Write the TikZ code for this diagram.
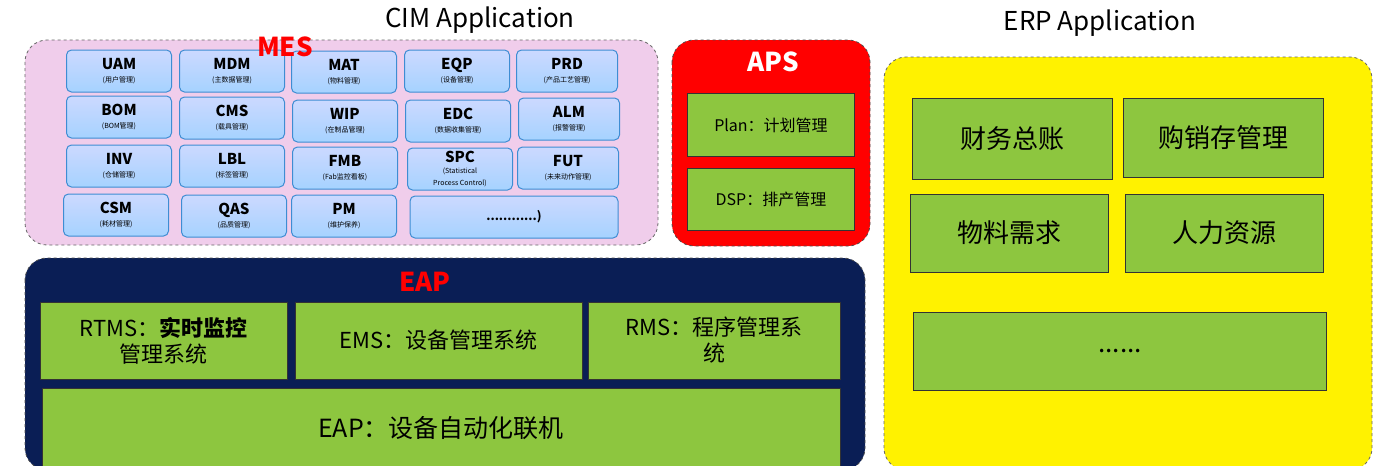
\documentclass[tikz,border=0pt]{standalone}
\usepackage{fontspec}
\setmainfont{Noto Sans CJK SC}
\begin{document}
\begin{tikzpicture}[x=1pt,y=-1pt,
  cont/.style={rounded corners=22pt,dashed,draw=black!60,line width=0.8pt},
  mb/.style={draw=cyan!60!blue!80,line width=1pt,rounded corners=5pt,top color=cyan!25!blue!20,bottom color=cyan!50!blue!35,align=center,inner sep=0pt},
  ttl/.style={font=\fontsize{26}{28}\selectfont}]
\definecolor{gr}{RGB}{141,198,63}
\tikzset{grn/.style={draw=black!80,fill=gr,line width=0.8pt,text=black,align=center}}
\useasboundingbox (0,0) rectangle (1374,466);
\fill[white] (0,0) rectangle (1374,466);
% containers
\path[cont,fill={rgb,255:red,240;green,205;blue,235}] (25,40) rectangle (658,245);
\path[cont,fill=red,draw=black!70] (672,40) rectangle (870,246);
\path[cont,fill=yellow] (884,57) rectangle (1372,470);
\path[cont,fill={rgb,255:red,10;green,30;blue,85},draw=black!70] (25,258) rectangle (865,470);
\node[ttl] (cim) at (480,20) {CIM Application};
\node[ttl] (erp) at (1100,23) {ERP Application};
\node[text=white,font=\bfseries\fontsize{26}{28}\selectfont] (apst) at (773,62) {APS};
\node[text=red,font=\bfseries\fontsize{26}{28}\selectfont] (eapt) at (425,282) {EAP};
% MES modules
\newcommand{\mm}[6]{\node[mb,minimum width=#3pt,minimum height=42pt] (#4) at (#1,#2) {{\bfseries\fontsize{15}{16}\selectfont #5}\\[1pt]{\fontsize{7}{8}\selectfont #6}};}
\mm{119}{71}{105}{uam}{UAM}{(用户管理)}
\mm{232}{71}{105}{mdm}{MDM}{(主数据管理)}
\mm{344}{72}{105}{mat}{MAT}{(物料管理)}
\mm{457}{71}{105}{eqp}{EQP}{(设备管理)}
\mm{567}{71}{101}{prd}{PRD}{(产品工艺管理)}
\mm{119}{117}{105}{bom}{BOM}{(BOM管理)}
\mm{232}{118}{105}{cms}{CMS}{(载具管理)}
\mm{345}{121}{105}{wip}{WIP}{(在制品管理)}
\mm{458}{121}{105}{edc}{EDC}{(数据收集管理)}
\mm{569}{119}{101}{alm}{ALM}{(报警管理)}
\mm{119}{166}{105}{inv}{INV}{(仓储管理)}
\mm{232}{166}{105}{lbl}{LBL}{(标签管理)}
\mm{345}{168}{105}{fmb}{FMB}{(Fab监控看板)}
\node[mb,minimum width=105pt,minimum height=42pt] (spc) at (460,169) {{\bfseries\fontsize{15}{16}\selectfont SPC}\\[-1pt]{\fontsize{7}{8}\selectfont (Statistical}\\{\fontsize{7}{8}\selectfont Process Control)}};
\mm{568}{168}{101}{fut}{FUT}{(未来动作管理)}
\mm{116}{215}{105}{csm}{CSM}{(耗材管理)}
\mm{234}{216}{105}{qas}{QAS}{(品质管理)}
\mm{344}{216}{105}{pm}{PM}{(维护保养)}
\node[mb,minimum width=208pt,minimum height=42pt,font=\bfseries\fontsize{12}{12}\selectfont] (more) at (514,217) {............)};
\node[text=red,font=\bfseries\fontsize{26}{28}\selectfont] (mest) at (285,47) {MES};
% APS
\node[grn,minimum width=167pt,minimum height=63pt,font=\fontsize{16}{18}\selectfont] (plan) at (771,125) {Plan：计划管理};
\node[grn,minimum width=167pt,minimum height=62pt,font=\fontsize{16}{18}\selectfont] (dsp) at (771,199) {DSP：排产管理};
% ERP
\tikzset{eb/.style={grn,font=\fontsize{26}{28}\selectfont}}
\node[eb,minimum width=200pt,minimum height=81pt] (cw) at (1012,139) {财务总账};
\node[eb,minimum width=200pt,minimum height=79pt] (gx) at (1223,138) {购销存管理};
\node[eb,minimum width=198pt,minimum height=78pt] (wl) at (1009,233) {物料需求};
\node[eb,minimum width=198pt,minimum height=78pt] (rl) at (1224,233) {人力资源};
\node[eb,minimum width=413pt,minimum height=78pt] (em) at (1120,351) {......};
% EAP
\tikzset{ab/.style={grn,font=\fontsize{22}{26}\selectfont,minimum height=77pt,inner sep=1pt}}
\node[ab,minimum width=247pt] (rtms) at (163.5,340.5) {RTMS：{\bfseries 实时监控}\\管理系统};
\node[ab,minimum width=287pt] (ems) at (438.5,340.5) {EMS：设备管理系统};
\node[ab,minimum width=252pt] (rms) at (714,340.5) {RMS：程序管理系\\统};
\node[ab,minimum width=798pt,minimum height=80pt,font=\fontsize{25}{28}\selectfont] (eap) at (441,428) {EAP：设备自动化联机};
\end{tikzpicture}
\end{document}
